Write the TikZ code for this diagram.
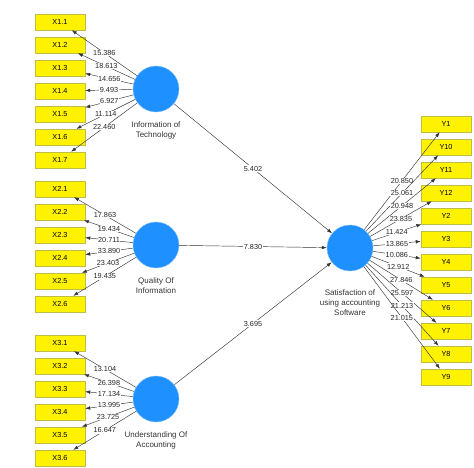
\documentclass[tikz,border=0pt]{standalone}
\usepackage{fontspec}
\setmainfont{Liberation Sans}
\usetikzlibrary{arrows.meta, positioning}
\definecolor{lvblue}{RGB}{30,144,255}
\definecolor{boxline}{RGB}{190,190,70}
\tikzset{
  latent/.style={
    circle, draw=lvblue!55, fill=lvblue,
    minimum size=46pt, inner sep=0pt
  },
  indicator/.style={
    rectangle, draw=boxline, fill=yellow,
    minimum width=50pt, minimum height=16pt, inner sep=0pt,
    font=\fontsize{7.3}{8}\selectfont
  },
  caption/.style={
    align=center, inner sep=0pt, text=black!80,
    font=\fontsize{8}{10}\selectfont
  },
  arrow/.style={-{Latex[length=5pt,width=3.5pt]}, line width=0.45pt, draw=black!80},
  weight/.style={
    fill=white, inner sep=0.5pt, text=black!85,
    font=\fontsize{7.3}{8}\selectfont
  }
}

\begin{document}
\begin{tikzpicture}[x=1pt, y=-1pt, node distance=6.6pt]
  \useasboundingbox (0,0) rectangle (474,468);

  % latent variables
  \node[latent] (it) at (156,89) {};
  \node[latent] (qi) at (156,245) {};
  \node[latent] (ua) at (156,399) {};
  \node[latent] (sat) at (350,248) {};
  \node[caption, below=9.5pt of it] (itcap) {Information of\\Technology};
  \node[caption, below=9pt of qi] (qicap) {Quality Of\\Information};
  \node[caption, below=9pt of ua] (uacap) {Understanding Of\\Accounting};
  \node[caption, below=18pt of sat] (satcap) {Satisfaction of\\using accounting\\Software};

  % indicators of Information of Technology
  \node[indicator] (x11) at (60,22) {X1.1};
  \node[indicator, below=of x11] (x12) {X1.2};
  \node[indicator, below=of x12] (x13) {X1.3};
  \node[indicator, below=of x13] (x14) {X1.4};
  \node[indicator, below=of x14] (x15) {X1.5};
  \node[indicator, below=of x15] (x16) {X1.6};
  \node[indicator, below=of x16] (x17) {X1.7};

  % indicators of Quality Of Information
  \node[indicator] (x21) at (60,189) {X2.1};
  \node[indicator, below=of x21] (x22) {X2.2};
  \node[indicator, below=of x22] (x23) {X2.3};
  \node[indicator, below=of x23] (x24) {X2.4};
  \node[indicator, below=of x24] (x25) {X2.5};
  \node[indicator, below=of x25] (x26) {X2.6};

  % indicators of Understanding Of Accounting
  \node[indicator] (x31) at (60,343) {X3.1};
  \node[indicator, below=of x31] (x32) {X3.2};
  \node[indicator, below=of x32] (x33) {X3.3};
  \node[indicator, below=of x33] (x34) {X3.4};
  \node[indicator, below=of x34] (x35) {X3.5};
  \node[indicator, below=of x35] (x36) {X3.6};

  % indicators of Satisfaction
  \node[indicator] (y1) at (446,124) {Y1};
  \node[indicator, below=of y1] (y10) {Y10};
  \node[indicator, below=of y10] (y11) {Y11};
  \node[indicator, below=of y11] (y12) {Y12};
  \node[indicator, below=of y12] (y2) {Y2};
  \node[indicator, below=of y2] (y3) {Y3};
  \node[indicator, below=of y3] (y4) {Y4};
  \node[indicator, below=of y4] (y5) {Y5};
  \node[indicator, below=of y5] (y6) {Y6};
  \node[indicator, below=of y6] (y7) {Y7};
  \node[indicator, below=of y7] (y8) {Y8};
  \node[indicator, below=of y8] (y9) {Y9};

  % outer loadings
  \foreach \n/\w in {x11/15.386, x12/18.613, x13/14.656, x14/9.493,
                     x15/6.927, x16/11.114, x17/22.460}
    \draw[arrow] (it) -- node[weight] {\w} (\n);
  \foreach \n/\w in {x21/17.863, x22/19.434, x23/20.711, x24/33.890,
                     x25/23.403, x26/19.435}
    \draw[arrow] (qi) -- node[weight] {\w} (\n);
  \foreach \n/\w in {x31/13.104, x32/26.398, x33/17.134, x34/13.995,
                     x35/23.725, x36/16.647}
    \draw[arrow] (ua) -- node[weight] {\w} (\n);
  \foreach \n/\w in {y1/20.850, y10/25.061, y11/20.948, y12/23.835,
                     y2/11.424, y3/13.865, y4/10.086, y5/12.912,
                     y6/27.846, y7/25.597, y8/21.213, y9/21.015}
    \draw[arrow] (sat) -- node[weight] {\w} (\n);

  % path coefficients
  \draw[arrow] (it) -- node[weight] {5.402} (sat);
  \draw[arrow] (qi) -- node[weight] {7.830} (sat);
  \draw[arrow] (ua) -- node[weight] {3.695} (sat);
\end{tikzpicture}
\end{document}
